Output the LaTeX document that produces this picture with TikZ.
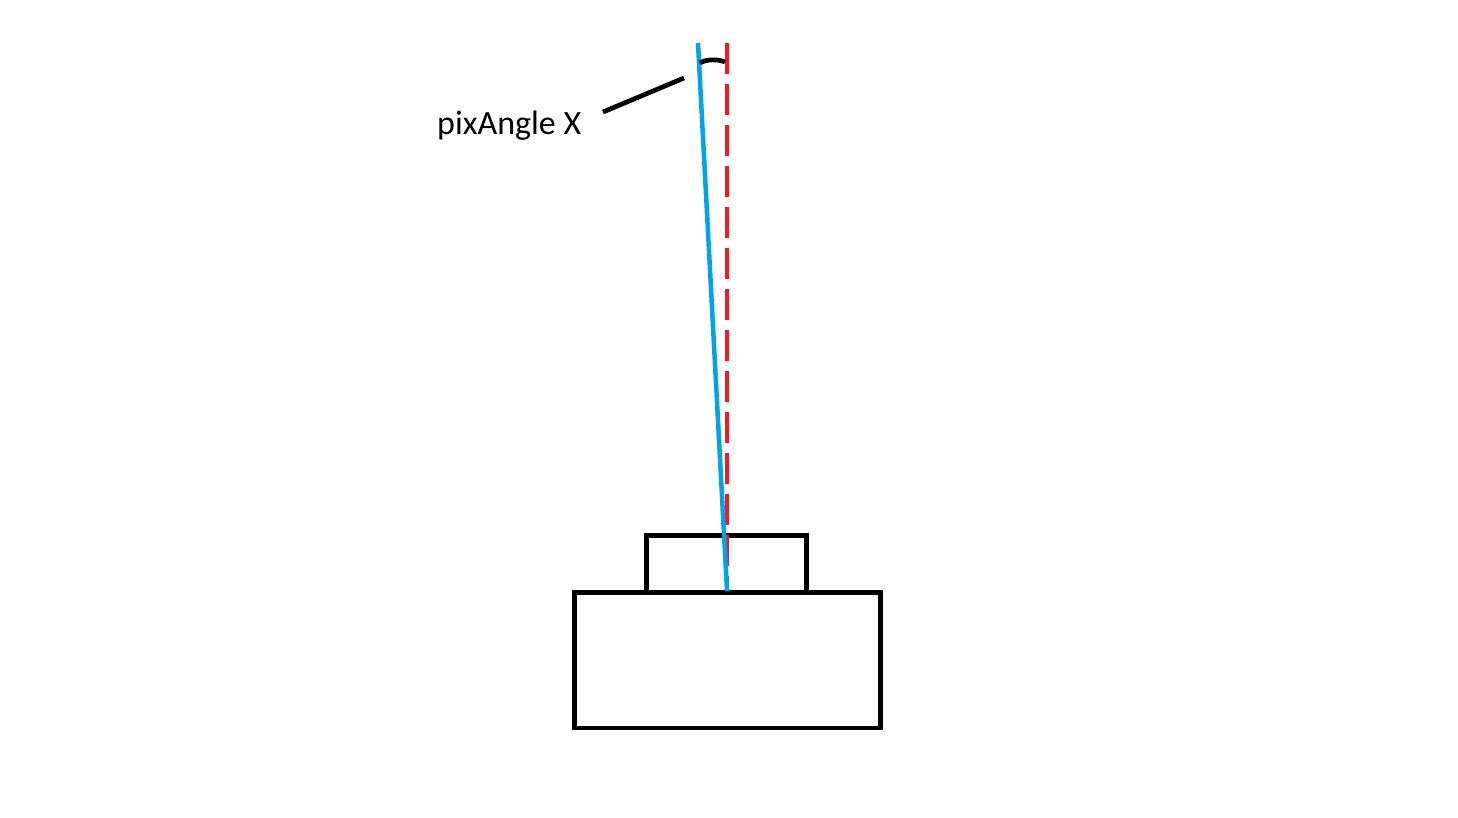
\documentclass[tikz,border=0pt]{standalone}
\usepackage{fontspec}
\setmainfont{Carlito}
\definecolor{pblue}{HTML}{00A2E8}
\definecolor{pred}{HTML}{ED1C24}
\begin{document}
\begin{tikzpicture}[x=1pt,y=-1pt,
  blk/.style={draw=black,line width=4.7pt},
  ray/.style={draw=pblue,line width=4.5pt},
  axis/.style={draw=pred,line width=4.2pt,dash pattern=on 31pt off 10pt},
  lbl/.style={font=\fontsize{34}{38}\selectfont,anchor=base west,inner sep=0pt}]
\useasboundingbox (0,0) rectangle (1458,817);
\fill[white] (0,0) rectangle (1458,817);
% camera body
\coordinate (bodyNW) at (574.5,592.5);
\coordinate (bodySE) at (880.5,728);
\coordinate (lensNW) at (646.5,535.5);
\coordinate (lensSE) at (806.5,592.5);
\draw[blk] (lensSE) |- (lensNW) |- (lensSE);
\draw[blk] (bodyNW) rectangle (bodySE);
% optical axis and ray
\coordinate (axisTop) at (727,43);
\coordinate (axisBot) at (727,590);
\coordinate (rayTop) at (698,43);
\coordinate (rayBot) at (727,591);
\draw[axis] (axisTop) -- (axisBot);
\draw[ray] (rayTop) -- (rayBot);
% angle arc
\coordinate (arcA) at (700,63);
\coordinate (arcB) at (725,62);
\draw[black,line width=4.7pt] (arcA) .. controls (706,59) and (718,59) .. (arcB);
% label
\node[lbl] (label) at (437,134) {pixAngle X};
\coordinate (leadA) at (603,112);
\coordinate (leadB) at (684,78);
\draw[black,line width=4.7pt] (leadA) -- (leadB);
\end{tikzpicture}
\end{document}
